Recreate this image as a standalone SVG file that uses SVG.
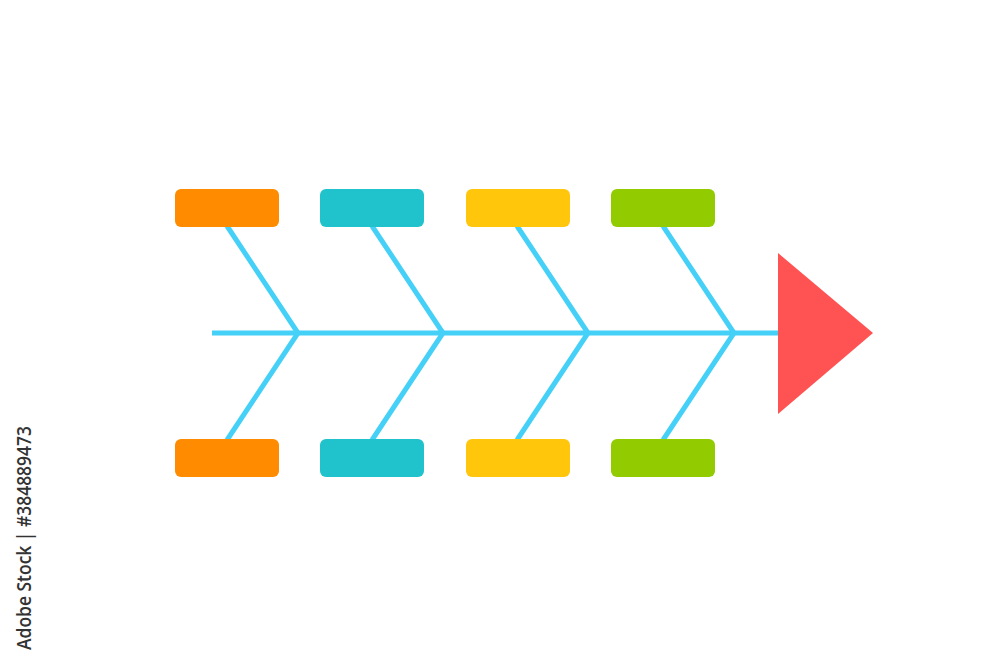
<svg xmlns="http://www.w3.org/2000/svg" width="1000" height="667" viewBox="0 0 1000 667">
<style>
.bone{stroke:#45D0F8;stroke-width:5;fill:none;stroke-linecap:butt;stroke-linejoin:miter}
.box{stroke:none}
.o{fill:#FF8C00}.t{fill:#20C3CC}.y{fill:#FFC60C}.g{fill:#92CC00}
.credit{font-family:"Open Sans","Liberation Sans",sans-serif;font-size:20px;font-weight:600;fill:#333333}
</style>
<rect width="1000" height="667" fill="#ffffff"/>
<g id="connectors">
<line class="bone" x1="212" y1="333" x2="780" y2="333"/>
<polyline class="bone" points="227,226 298,333 227,440"/>
<polyline class="bone" points="372,226 443,333 372,440"/>
<polyline class="bone" points="517,226 588,333 517,440"/>
<polyline class="bone" points="663,226 734,333 663,440"/>
</g>
<g id="head"><polygon points="778,253 873,333 778,414" fill="#FF5252"/></g>
<g id="box-top-1"><rect class="box o" x="175" y="189" width="104" height="38" rx="6"/></g>
<g id="box-top-2"><rect class="box t" x="320" y="189" width="104" height="38" rx="6"/></g>
<g id="box-top-3"><rect class="box y" x="466" y="189" width="104" height="38" rx="6"/></g>
<g id="box-top-4"><rect class="box g" x="611" y="189" width="104" height="38" rx="6"/></g>
<g id="box-bot-1"><rect class="box o" x="175" y="439" width="104" height="38" rx="6"/></g>
<g id="box-bot-2"><rect class="box t" x="320" y="439" width="104" height="38" rx="6"/></g>
<g id="box-bot-3"><rect class="box y" x="466" y="439" width="104" height="38" rx="6"/></g>
<g id="box-bot-4"><rect class="box g" x="611" y="439" width="104" height="38" rx="6"/></g>
<text class="credit" transform="translate(31,650) rotate(-90)" x="0" y="0" textLength="224" lengthAdjust="spacingAndGlyphs">Adobe Stock | #384889473</text>
</svg>
